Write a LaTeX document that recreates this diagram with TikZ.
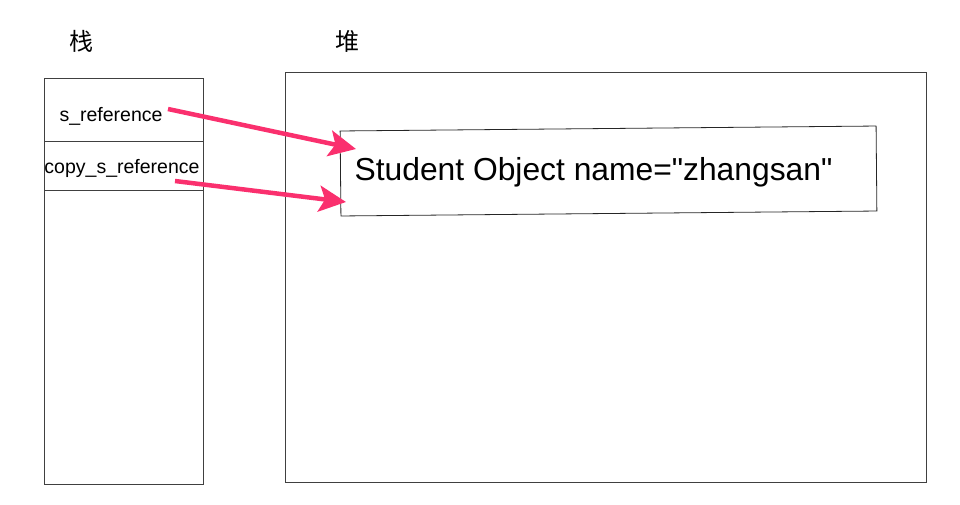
\documentclass[tikz,border=0pt]{standalone}
\usepackage{fontspec}
\setmainfont{Liberation Sans}
\newfontfamily\cjk{Noto Sans CJK SC}[BoldFont={* Medium}]
\usetikzlibrary{arrows.meta}
\definecolor{arrowpink}{RGB}{250,48,110}
\tikzset{
  cell/.style={draw=black!75, line width=0.8pt, minimum width=159pt, inner sep=0pt, anchor=north west},
  small/.style={font=\fontsize{19.5}{22}\selectfont},
  pinkarrow/.style={draw=arrowpink, line width=4.5pt, -{Stealth[length=27pt,width=26pt,inset=6pt]}},
  title/.style={font=\cjk\fontsize{24}{26}\selectfont}
}
\begin{document}
\begin{tikzpicture}[x=1pt,y=-1pt]
\useasboundingbox (0,0) rectangle (960,504);
% titles
\node[title] (zhan) at (81,41) {栈};
\node[title] (dui) at (347,41) {堆};
% stack
\node[cell, minimum height=406pt] (stack) at (44,78) {};
\node[cell, minimum height=63pt] (cellA) at (44,78) {};
\node[cell, minimum height=49pt] (cellB) at (44,141) {};
\node[small] (labA) at (111,116.5) {s\_reference};
\node[small] (labB) at (122,168) {copy\_s\_reference};
% heap
\node[draw=black!75, line width=0.8pt, minimum width=641pt, minimum height=410pt, anchor=north west, inner sep=0pt] (heap) at (285,72) {};
% object
\node[draw=black!85, line width=0.8pt, minimum width=536pt, minimum height=85pt, rotate=0.53, inner sep=0pt] (obj) at (608.5,171) {};
\node[font=\fontsize{31.8}{34}\selectfont] (objtext) at (593.5,172) {Student Object name=\textquotedbl zhangsan\textquotedbl};
% arrows
\coordinate (sA) at (168,109);
\coordinate (tA) at (356,149);
\coordinate (sB) at (175,181);
\coordinate (tB) at (346,202);
\draw[pinkarrow] (sA) -- (tA);
\draw[pinkarrow] (sB) -- (tB);
\end{tikzpicture}
\end{document}
